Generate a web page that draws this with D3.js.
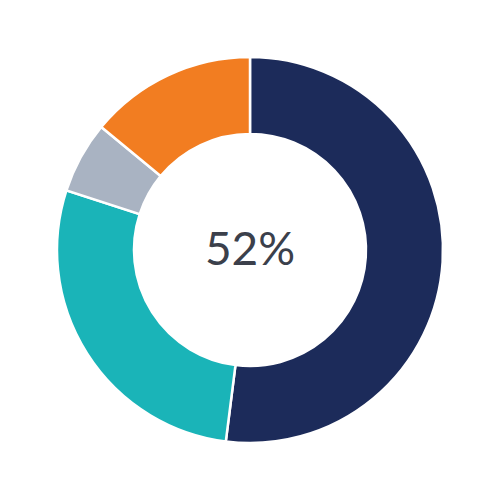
<!DOCTYPE html>
<html lang="en">
  <head>
    <meta charset="UTF-8" />
    <title>Donut</title>
    <script src="https://d3js.org/d3.v7.min.js"></script>
    <style>
      body {
        margin: 0;
        background: white;
      }
    </style>
  </head>
  <body>
    <script>
      const categories = ["A", "B", "C", "D"];
      const values = [52, 28, 6, 14];
      const colors = ["#1c2b5a", "#1ab4b8", "#a9b3c2", "#f27d21"];
      const centerLabel = "52%";

      const width = 500;
      const height = 500;
      const outer = 193;
      const inner = 116;

      const svg = d3
        .select("body")
        .append("svg")
        .attr("width", width)
        .attr("height", height);

      const g = svg
        .append("g")
        .attr("transform", "translate(250,250)");

      const color = d3.scaleOrdinal().domain(categories).range(colors);

      const pie = d3
        .pie()
        .sort(null)
        .value(function (d, i) {
          return values[i];
        });

      const arc = d3.arc().innerRadius(inner).outerRadius(outer);

      g.selectAll("path")
        .data(pie(categories))
        .enter()
        .append("path")
        .attr("d", arc)
        .attr("fill", function (d) {
          return color(d.data);
        })
        .attr("stroke", "white")
        .attr("stroke-width", 2.5);

      g.append("text")
        .attr("text-anchor", "middle")
        .attr("dy", "0.33em")
        .attr("font-family", "Lato, sans-serif")
        .attr("font-size", 46)
        .attr("fill", "#3b404b")
        .text(centerLabel);
    </script>
  </body>
</html>
